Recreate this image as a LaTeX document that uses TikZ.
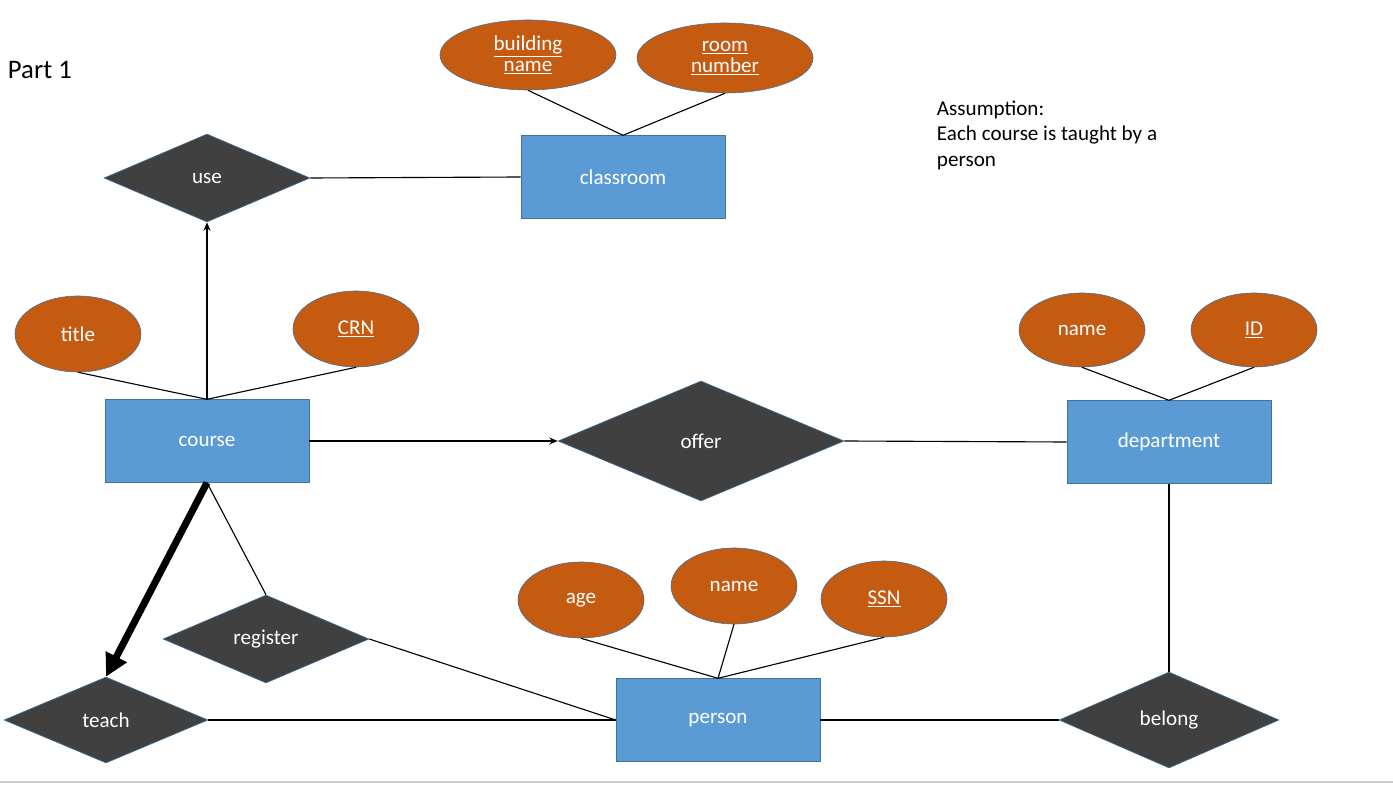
\documentclass[tikz,border=0pt]{standalone}
\usepackage{fontspec}
\setmainfont{Carlito}
\usetikzlibrary{shapes.geometric,arrows.meta}
\definecolor{entblue}{HTML}{5B9BD5}
\definecolor{attrorange}{HTML}{C55A11}
\definecolor{reldark}{HTML}{404040}
\definecolor{edgeblue}{HTML}{41719C}
\begin{document}
\begin{tikzpicture}[x=0.025cm,y=-0.025cm,
  every node/.style={font=\fontsize{15}{18}\selectfont},
  entity/.style={rectangle,draw=edgeblue,fill=entblue,text=white,minimum width=5.1cm,minimum height=2.07cm,inner sep=0pt},
  attr/.style={ellipse,draw=edgeblue,fill=attrorange,text=white,minimum width=3.15cm,minimum height=1.9cm,inner sep=0pt,align=center},
  rel/.style={diamond,draw=edgeblue,fill=reldark,text=white,aspect=2.3,inner sep=0pt},
  link/.style={draw=black,thick}]
\useasboundingbox (0,0) rectangle (1393,786);
\draw[gray!40,thick] (0,782) -- (1393,782);

\node[anchor=west,font=\fontsize{19}{22}\selectfont] (part) at (3,70) {Part 1};
\node[anchor=north west,align=left] (assume) at (932,96) {Assumption:\\Each course is taught by a\\person};

% entities
\node[entity] (classroom) at (623,177) {classroom};
\node[entity] (course) at (207,441) {course};
\node[entity] (dept) at (1169,442) {department};
\node[entity] (person) at (718,720) {person};

% attributes
\node[attr,minimum width=4.4cm,minimum height=1.75cm] (bname) at (528,55) {\underline{building}\\[-3pt]\underline{name}};
\node[attr,minimum width=4.4cm,minimum height=1.75cm] (room) at (725,58) {\underline{room}\\[-3pt]\underline{number}};
\node[attr] (title) at (78,334) {title};
\node[attr] (crn) at (356,329) {\underline{CRN}};
\node[attr,minimum height=1.85cm] (dname) at (1082,330) {name};
\node[attr,minimum height=1.85cm] (id) at (1254,330) {\underline{ID}};
\node[attr] (age) at (581,600) {age};
\node[attr] (pname) at (734,586) {name};
\node[attr] (ssn) at (884,599) {\underline{SSN}};

% relationships
\node[rel,minimum width=5.15cm,minimum height=2.2cm] (use) at (207,178) {use};
\node[rel,minimum width=7.15cm,minimum height=3cm] (offer) at (701,441) {offer};
\node[rel,minimum width=5.5cm,minimum height=2.4cm] (belong) at (1169,720) {belong};
\node[rel,minimum width=5.15cm,minimum height=2.2cm] (register) at (266,639) {register};
\node[rel,minimum width=5.1cm,minimum height=2.15cm] (teach) at (106,720) {teach};

% connectors
\draw[link] (bname.south) -- (classroom.north);
\draw[link] (room.south) -- (classroom.north);
\draw[link] (use.east) -- (classroom.west);
\draw[link] (title.south) -- (course.north);
\draw[link] (crn.south) -- (course.north);
\draw[link,-{Stealth[length=6pt,width=5pt]}] (course.north) -- (use.south);
\draw[link,-{Stealth[length=6pt,width=5pt]}] (course.east) -- (offer.west);
\draw[link] (offer.east) -- (dept.west);
\draw[link] (dname.south) -- (dept.north);
\draw[link] (id.south) -- (dept.north);
\draw[link] (dept.south) -- (belong.north);
\draw[link] (person.east) -- (belong.west);
\draw[link] (age.south) -- (person.north);
\draw[link] (pname.south) -- (person.north);
\draw[link] (ssn.south) -- (person.north);
\draw[link] (course.south) -- (register.north);
\draw[link] (register.east) -- (person.west);
\draw[link] (teach.east) -- (person.west);
\draw[line width=5pt,-{Triangle[length=16pt,width=16pt]}] (course.south) -- (teach.north);
\end{tikzpicture}
\end{document}
